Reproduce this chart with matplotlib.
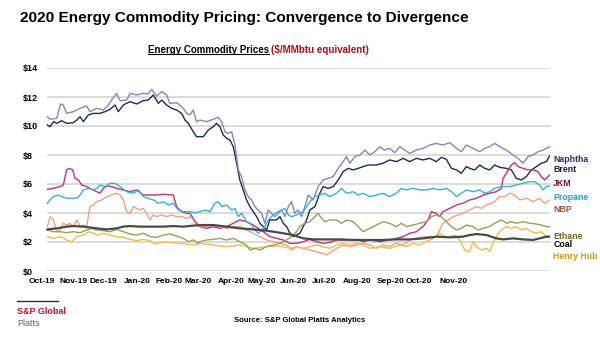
import matplotlib
matplotlib.use("Agg")
import matplotlib.pyplot as plt

# ---------------- data (x = trading-day index, y = $/MMBtu) ----------------
naphtha_x = [0.2, 1.8, 5.8, 8.1, 9.7, 11.7, 15.7, 19.7, 23.6, 25.6, 29.6, 33.6, 36.6, 38.5, 41.5, 43.5,
             47.5, 49.5, 53.5, 57.4, 60.4, 62.4, 65.4, 68.4, 71.3, 73.3, 77.3, 81.3, 83.3, 85.2, 87.2, 89.2,
             91.2, 95.2, 99.1, 102.1, 104.1, 106.1, 108.1, 110.1, 112.1, 114.1, 116.0, 118.0, 120.0, 122.0,
             124.0, 126.0, 128.0, 129.9, 131.9, 133.9, 135.9, 137.9, 139.9, 141.9, 143.9, 145.8, 147.8, 149.8,
             151.8, 153.8, 155.8, 158.8, 161.7, 164.7, 167.7, 170.7, 173.7, 176.6, 178.6, 180.6, 183.6, 186.6,
             189.6, 192.5, 195.5, 198.5, 201.4, 204.4, 207.4, 210.4, 213.4, 216.3, 220.3, 224.3, 228.3, 232.2,
             236.2, 240.2, 244.2, 247.1, 250.1, 254.1, 258.1, 261.1, 264.0, 267.0, 270.0, 274.0, 277.9, 280.9,
             283.9, 286.9, 289.9, 292.8, 295.8, 299.8]
naphtha_y = [10.64, 10.46, 10.53, 11.52, 11.45, 10.87, 10.99, 11.22, 11.38, 10.99, 11.22, 11.10, 11.45, 11.79,
             12.25, 11.75, 11.79, 12.25, 12.14, 12.25, 12.21, 12.53, 12.07, 12.37, 12.14, 11.56, 11.61, 11.22,
             10.87, 10.76, 11.10, 10.30,
             10.41, 10.30, 10.46, 10.60, 10.30, 9.61, 9.49, 9.61, 8.69, 6.97, 6.51, 5.59, 5.13, 4.90,
             4.44, 4.21, 3.98, 3.29, 4.21, 3.98, 3.75, 3.98, 4.21, 3.75, 4.44, 4.78, 3.98, 4.21,
             3.75, 4.44, 5.24, 4.90, 5.82, 6.28, 6.39, 6.51, 7.08, 7.54, 7.89, 7.43, 7.89, 8.00,
             8.34, 8.00, 8.23, 8.57, 8.34, 8.46, 8.16, 8.57, 8.34, 8.11, 8.34, 8.46, 8.69, 8.80,
             8.69, 8.85, 8.46, 8.23, 8.69, 8.46, 8.23, 8.46, 8.57, 8.80, 8.57, 8.34, 8.00, 7.77,
             7.43, 7.89, 8.00, 8.23, 8.34, 8.57]

brent_x = [0.2, 1.8, 3.8, 5.8, 8.7, 11.7, 15.7, 17.7, 19.7, 21.7, 24.6, 27.6, 31.6, 34.6, 37.6, 40.5, 42.5,
           45.5, 49.5, 53.5, 57.4, 60.4, 63.4, 66.4, 68.4, 71.3, 74.3, 77.3, 80.3, 82.3, 84.3, 87.2, 89.2,
           91.2, 93.2, 96.2, 99.1, 101.1, 103.1, 105.1, 107.1, 109.1, 111.1, 113.1, 115.0, 117.0, 119.0,
           121.0, 123.0, 125.0, 127.0, 129.0, 130.9, 132.9, 134.9, 136.9, 138.9, 140.9, 142.9, 144.9, 146.8,
           148.8, 150.8, 152.8, 154.8, 156.8, 159.8, 162.7, 164.7, 167.7, 170.7, 173.7, 176.6, 179.6, 182.6,
           185.6, 188.6, 191.5, 196.5, 200.4, 204.4, 208.4, 212.4, 216.3, 220.3, 224.3, 228.3, 232.2, 235.2,
           238.2, 241.2, 244.2, 247.1, 250.1, 252.1, 255.1, 258.1, 261.1, 264.0, 267.0, 270.0, 274.0, 277.0,
           279.9, 282.9, 285.9, 288.9, 291.9, 294.8, 297.8, 299.8]
brent_y = [10.07, 9.95, 10.30, 10.18, 10.37, 10.18, 10.23, 10.41, 10.64, 10.30, 10.76, 10.87, 10.87, 10.99,
           11.15, 11.45, 10.99, 11.45, 11.68, 11.52, 11.75, 11.79, 12.14, 11.56, 11.79, 11.45, 11.22, 11.10,
           10.87, 10.41, 10.18, 9.61, 9.26,
           9.26, 9.26, 9.72, 9.95, 10.18, 9.95, 9.38, 9.15, 9.03, 8.57, 7.43, 6.28, 5.59, 4.90,
           4.44, 4.09, 3.75, 3.29, 3.06, 2.83, 3.52, 3.52, 3.52, 3.75, 3.29, 3.06, 2.60, 2.37,
           2.48, 2.60, 3.06, 3.52, 4.21, 4.44, 5.36, 5.82, 5.70, 5.82, 6.28, 6.85, 7.08, 6.97,
           7.08, 7.20, 7.31, 7.31, 7.43, 7.66, 7.54, 7.77, 7.54, 7.77, 7.66, 7.77, 7.54, 7.84,
           7.70, 7.08, 6.97, 6.74, 7.20, 7.08, 6.97, 7.31, 7.08, 6.97, 7.31, 7.15, 7.08, 6.97,
           6.39, 6.28, 6.51, 6.97, 7.20, 7.43, 7.54, 7.93]

jkm_x = [0.2, 3.8, 7.8, 9.7, 11.7, 13.3, 15.3, 16.7, 18.7, 20.7, 23.6, 27.6, 31.6, 33.6, 35.6, 38.5, 41.5,
         45.5, 49.5, 53.5, 57.4, 61.4, 65.4, 69.4, 75.3, 77.3, 80.3, 83.3, 85.2, 87.2, 89.2,
         91.2, 95.2, 99.1, 103.1, 107.1, 111.1, 115.0, 119.0, 123.0, 126.0, 129.0, 132.9, 136.9, 140.9,
         144.9, 148.8, 152.8, 156.8, 160.7, 164.7, 168.7, 172.7, 176.6, 180.6, 184.6, 188.6, 192.5,
         198.5, 204.4, 208.4, 212.4, 216.3, 220.3, 224.3, 227.3, 229.3, 232.2, 234.2, 236.2, 240.2, 244.2,
         248.1, 252.1, 256.1, 260.1, 264.0, 268.0, 271.0, 272.0, 274.0, 276.9, 278.9, 280.9, 283.9, 286.9,
         289.9, 292.8, 294.8, 296.8, 299.8]
jkm_y = [5.63, 5.70, 5.82, 5.93, 6.97, 7.08, 6.97, 6.39, 6.28, 5.93, 5.82, 5.59, 5.36, 5.70, 5.86, 5.82, 5.70,
         5.59, 5.47, 5.59, 5.24, 5.24, 5.24, 5.29, 5.24, 4.44, 4.09, 3.98, 3.98, 3.63, 3.29,
         3.06, 2.94, 3.06, 2.94, 3.06, 3.29, 3.52, 3.40, 3.17, 2.94, 2.71, 2.37, 2.25, 2.14,
         1.91, 1.91, 2.02, 2.18, 2.02, 1.91, 1.98, 2.14, 2.14, 2.14, 2.18, 2.02, 2.14,
         2.02, 2.14, 2.25, 2.37, 2.60, 2.71, 3.06, 3.52, 4.09, 3.98, 3.75, 4.09, 4.32, 4.55,
         4.67, 4.90, 5.01, 5.24, 5.36, 5.47, 5.70, 6.39, 6.74, 7.31, 7.47, 7.20, 7.08, 6.97,
         6.97, 6.85, 6.51, 6.28, 6.62]

propane_x = [0.2, 1.8, 3.8, 6.8, 8.7, 11.7, 15.7, 18.7, 21.7, 24.6, 27.6, 29.6, 31.6, 34.6, 37.6, 40.5,
             43.5, 47.5, 51.5, 54.5, 57.4, 60.4, 63.4, 66.4, 69.4, 72.3, 75.3, 78.3, 81.3, 85.2, 88.2,
             91.2, 94.2, 97.2, 100.1, 102.1, 104.1, 107.1, 110.1, 112.1, 114.1, 116.0, 119.0, 122.0, 124.0,
             126.0, 128.0, 129.9, 131.9, 133.9, 135.9, 137.9, 139.9, 141.9, 143.9, 145.8, 148.8, 150.8, 152.8,
             154.8, 156.8, 159.8, 162.7, 165.7, 168.7, 172.7, 175.6, 178.6, 182.6, 185.6, 188.6, 192.5,
             196.5, 200.4, 204.4, 208.4, 211.4, 214.4, 218.3, 222.3, 226.3, 230.3, 234.2, 238.2, 241.2, 244.2,
             247.1, 250.1, 254.1, 258.1, 261.1, 264.0, 267.0, 271.0, 275.9, 279.9, 283.9, 287.9, 290.9, 293.8,
             295.8, 297.8, 299.8]
propane_y = [4.67, 4.90, 5.13, 5.24, 5.13, 5.01, 5.01, 5.08, 5.59, 5.70, 5.59, 5.70, 5.93, 5.82, 6.05, 6.05,
             5.82, 5.47, 5.36, 5.59, 5.13, 5.01, 4.90, 4.67, 4.78, 4.55, 4.67, 4.21, 4.09, 4.09, 4.02,
             4.09, 4.21, 4.09, 4.67, 4.78, 4.44, 4.55, 4.21, 4.32, 3.75, 3.98, 3.40, 3.17, 2.83,
             2.60, 2.83, 3.06, 3.52, 3.75, 3.98, 4.09, 4.21, 4.32, 3.86, 3.75, 3.86, 3.98, 4.09,
             4.44, 4.78, 5.13, 5.24, 5.36, 5.13, 5.36, 5.70, 5.36, 5.47, 5.24, 5.36, 5.13,
             5.24, 5.36, 5.13, 5.36, 5.70, 5.59, 5.70, 5.59, 5.59, 5.70, 5.59, 5.70, 5.47, 5.13,
             5.36, 5.59, 5.47, 5.59, 5.36, 5.47, 5.70, 5.82, 5.82, 5.93, 6.05, 6.16, 6.16, 5.93,
             5.59, 5.82, 5.86]

nbp_x = [0.2, 1.8, 3.8, 5.8, 7.8, 9.7, 11.7, 13.7, 15.7, 17.7, 19.7, 21.7, 23.6, 25.6, 27.6, 29.6, 32.6,
         35.6, 38.5, 41.5, 43.5, 45.5, 47.5, 49.5, 51.5, 53.5, 55.4, 57.4, 59.4, 61.4, 63.4, 65.4, 68.4,
         71.3, 74.3, 77.3, 80.3, 83.3, 85.2, 87.2, 89.2,
         91.2, 95.2, 99.1, 103.1, 107.1, 111.1, 115.0, 119.0, 123.0, 127.0, 130.9, 134.9, 138.9, 142.9,
         145.8, 148.8, 152.8, 156.8, 160.7, 164.7, 166.7, 169.7, 172.7, 176.6, 180.6, 184.6, 188.6, 192.5,
         196.5, 200.4, 204.4, 208.4, 212.4, 216.3, 220.3, 224.3, 228.3, 232.2, 236.2, 239.2, 242.2, 245.2,
         248.1, 252.1, 256.1, 259.1, 262.1, 267.0, 270.0, 273.0, 275.9, 278.9, 281.9, 285.9, 289.9, 293.8,
         296.8, 299.8]
nbp_y = [3.06, 3.75, 3.52, 2.71, 2.83, 3.29, 3.17, 3.29, 3.06, 3.52, 3.06, 3.17, 3.06, 4.44, 4.55, 4.78, 4.90,
         5.13, 5.24, 5.36, 5.24, 4.90, 4.09, 3.98, 4.44, 4.32, 4.21, 4.32, 3.98, 3.52, 3.86, 3.75, 3.86,
         3.75, 3.86, 3.75, 3.75, 3.63, 3.75, 3.52, 3.17,
         3.06, 3.06, 3.17, 3.06, 2.94, 3.06, 3.06, 2.83, 2.60, 2.37, 2.14, 2.02, 1.91, 1.79,
         1.45, 1.68, 1.56, 1.45, 1.33, 1.22, 1.10, 1.33, 1.56, 1.79, 1.68, 1.79, 1.91, 1.79,
         1.56, 1.79, 1.68, 1.91, 1.79, 2.14, 2.25, 2.37, 2.37, 2.37, 3.29, 3.52, 3.75, 3.86,
         3.98, 4.21, 4.44, 4.32, 4.55, 4.78, 5.13, 5.13, 5.36, 5.24, 4.90, 5.01, 4.78, 5.01,
         4.67, 4.90]

hh_x = [0.2, 3.8, 7.8, 11.7, 14.7, 17.7, 21.7, 24.6, 27.6, 30.6, 33.6, 37.6, 41.5, 45.5, 49.5, 53.5, 57.4,
        61.4, 64.4, 67.4, 71.3, 75.3, 79.3, 83.3, 87.2,
        91.2, 99.1, 107.1, 115.0, 123.0, 130.9, 138.9, 144.9, 148.8, 152.8, 156.8, 160.7, 164.7, 168.7,
        172.7, 176.6, 180.6, 184.6, 188.6,
        192.5, 198.5, 204.4, 210.4, 214.4, 218.3, 222.3, 226.3, 230.3, 232.2, 234.2, 237.2, 240.2, 243.2,
        246.1, 249.1, 252.1, 254.1, 256.1, 259.1, 262.1, 264.0, 266.0, 268.0, 271.0, 274.0, 276.9, 279.9,
        282.9, 285.9, 288.9, 291.9, 294.8, 297.8, 299.8]
hh_y = [2.37, 2.25, 2.37, 2.14, 2.02, 2.37, 2.48, 2.71, 2.60, 2.48, 2.60, 2.48, 2.37, 2.32, 2.18, 2.09, 2.18,
        2.09, 1.86, 1.95, 2.02, 1.95, 1.91, 1.86, 1.79,
        1.91, 1.79, 1.68, 1.79, 1.56, 1.68, 1.72, 1.56, 1.68, 1.56, 1.68, 1.79, 1.68, 1.56,
        1.79, 1.91, 1.79, 1.91, 1.79,
        1.56, 1.68, 1.56, 1.79, 1.68, 1.91, 1.79, 2.02, 2.25, 2.37, 2.60, 2.37, 2.37, 2.48,
        2.14, 1.45, 1.33, 2.02, 1.68, 1.45, 1.56, 1.33, 1.91, 2.37, 2.83, 3.06, 2.94, 3.06,
        2.83, 2.94, 2.71, 2.60, 2.71, 2.37, 2.25]

ethane_x = [0.2, 3.8, 7.8, 11.7, 15.7, 19.7, 23.6, 26.6, 29.6, 33.6, 37.6, 41.5, 45.5, 49.5, 53.5, 57.4,
            61.4, 65.4, 69.4, 73.3, 77.3, 81.3, 84.3, 87.2, 90.2,
            91.2, 95.2, 99.1, 103.1, 107.1, 111.1, 115.0, 119.0, 121.0, 124.0, 127.0, 130.9, 134.9, 138.9,
            142.9, 145.8, 148.8, 150.8, 153.8, 156.8, 159.8, 161.7, 163.7, 165.7, 168.7, 172.7, 175.6, 178.6,
            182.6, 185.6, 188.6, 192.5,
            196.5, 200.4, 204.4, 208.4, 211.4, 214.4, 218.3, 222.3, 226.3, 229.3, 232.2, 235.2, 238.2, 241.2,
            244.2, 247.1, 250.1, 254.1, 257.1, 260.1, 264.0, 267.0, 271.0, 274.0, 276.9, 279.9, 283.9, 287.9,
            291.9, 294.8, 297.8, 299.8]
ethane_y = [2.83, 2.71, 2.71, 2.64, 2.71, 2.64, 2.83, 2.94, 2.83, 2.78, 2.71, 2.87, 2.71, 2.55, 2.48, 2.60,
            2.37, 2.32, 2.48, 2.55, 2.41, 2.25, 2.02, 2.14, 1.91,
            2.02, 2.14, 2.18, 2.25, 2.14, 2.25, 2.02, 1.79, 1.45, 1.56, 1.45, 1.68, 1.79, 1.91,
            2.14, 2.37, 2.71, 3.06, 3.29, 3.40, 3.75, 3.98, 3.63, 3.40, 3.52, 3.52, 3.29, 3.52,
            3.40, 3.06, 2.71, 2.94,
            3.17, 3.40, 3.29, 3.06, 3.29, 3.06, 3.17, 3.29, 3.40, 3.75, 3.86, 3.75, 3.40, 3.06,
            2.83, 2.94, 3.17, 3.06, 2.83, 2.94, 3.06, 3.29, 3.52, 3.29, 3.40, 3.29, 3.40, 3.29,
            3.24, 3.17, 3.06, 3.06]

coal_x = [0.2, 5.8, 11.7, 15.7, 21.7, 29.6, 35.6, 41.5, 45.5, 49.5, 55.4, 61.4, 69.4, 75.3, 81.3, 87.2, 93.2,
          99.1, 107.1, 115.0, 123.0, 130.9, 138.9, 146.8, 152.8, 158.8, 166.7, 174.7, 182.6, 190.6,
          200.4, 208.4, 216.3, 224.3, 232.2, 240.2, 248.1, 252.1, 256.1, 262.1, 268.0, 272.0, 277.9, 283.9,
          289.9, 293.8, 297.8, 299.8]
coal_y = [2.87, 2.94, 3.06, 3.10, 3.06, 2.94, 2.87, 2.94, 3.06, 3.10, 3.06, 3.06, 3.06, 3.10, 3.06, 3.13, 3.17,
          3.17, 3.06, 2.94, 2.87, 2.78, 2.64, 2.48, 2.25, 2.18, 2.18, 2.18, 2.14, 2.14,
          2.14, 2.18, 2.18, 2.25, 2.37, 2.32, 2.37, 2.48, 2.55, 2.48, 2.25, 2.18, 2.25, 2.18,
          2.14, 2.25, 2.37, 2.37]

month_labels = ["Oct-19", "Nov-19", "Dec-19", "Jan-20", "Feb-20", "Mar-20", "Apr-20", "May-20",
                "Jun-20", "Jul-20", "Aug-20", "Sep-20", "Oct-20", "Nov-20"]
month_pos = [-3.0, 15.5, 33.4, 53.6, 72.7, 90.0, 109.7, 128.1, 147.2, 165.1, 184.8, 205.0, 221.7, 242.6]
y_ticks = [0, 2, 4, 6, 8, 10, 12, 14]
y_labels = ["$0", "$2", "$4", "$6", "$8", "$10", "$12", "$14"]

series_names = ["Naphtha", "Brent", "JKM", "Propane", "NBP", "Ethane", "Coal", "Henry Hub"]

# ---------------- styling ----------------
plt.rcParams["font.family"] = ["Liberation Sans", "DejaVu Sans"]

line_col = {
    "Naphtha": "#8986bf", "Brent": "#1f2d52", "JKM": "#c4317a", "Propane": "#35b3df",
    "NBP": "#f2a07e", "Ethane": "#99a05a", "Coal": "#4a4a4a", "Henry Hub": "#f3bd45",
}
label_col = {
    "Naphtha": "#2f2c6e", "Brent": "#101d45", "JKM": "#8a0b48", "Propane": "#1b9fd4",
    "NBP": "#9a5534", "Ethane": "#6a6a1c", "Coal": "#000000", "Henry Hub": "#d49a12",
}
label_val = {"Naphtha": 7.72, "Brent": 7.03, "JKM": 6.0, "Propane": 5.05, "NBP": 4.25,
             "Ethane": 2.4, "Coal": 1.85, "Henry Hub": 0.97}

fig = plt.figure(figsize=(6.0, 3.38), dpi=100)
ax = fig.add_axes([42 / 600, 1 - 271 / 338, 508 / 600, 203 / 338])
ax.set_xlim(-3, 300)
ax.set_ylim(0, 14)
for s in ax.spines.values():
    s.set_visible(False)

ax.hlines(y_ticks, 0, 300, colors="#d9d9d9", linewidth=1.3, zorder=0)

data = {
    "Brent": (brent_x, brent_y), "Naphtha": (naphtha_x, naphtha_y), "JKM": (jkm_x, jkm_y),
    "NBP": (nbp_x, nbp_y), "Henry Hub": (hh_x, hh_y), "Propane": (propane_x, propane_y),
    "Ethane": (ethane_x, ethane_y), "Coal": (coal_x, coal_y),
}
for name, (xs, ys) in data.items():
    ax.plot(xs, ys, color=line_col[name], linewidth=1.6 if name == "Coal" else 1.0,
            zorder=3 if name == "Coal" else 2, solid_joinstyle="round")

ax.set_yticks(y_ticks)
ax.set_yticklabels(y_labels, fontsize=6.5, fontweight="bold", ha="left")
ax.tick_params(axis="y", length=0, pad=14)
ax.set_xticks(month_pos)
ax.set_xticklabels(month_labels, fontsize=6, fontweight="bold")
ax.tick_params(axis="x", length=0, pad=5)

for name in series_names:
    ax.text(302, label_val[name], name, color=label_col[name], fontsize=6.3,
            fontweight="bold", va="center", ha="left", clip_on=False)

fig.text(20 / 600, 1 - 18 / 338, "2020 Energy Commodity Pricing: Convergence to Divergence",
         fontsize=11.1, fontweight="bold", va="center", ha="left")

t1 = fig.text(148 / 600, 1 - 50 / 338, "Energy Commodity Prices", fontsize=7, fontweight="bold",
              va="center", ha="left")
fig.canvas.draw()
bb = t1.get_window_extent()
fig.add_artist(plt.Line2D([bb.x0 / 600, bb.x1 / 600], [(bb.y0 + 1) / 338, (bb.y0 + 1) / 338],
                          color="black", linewidth=0.8))
fig.text(bb.x1 / 600 + 2 / 600, 1 - 50 / 338, "($/MMbtu equivalent)", fontsize=7, fontweight="bold",
         color="#b0101a", va="center", ha="left")

fig.text(300 / 600, 1 - 321 / 338, "Source: S&P Global Platts Analytics", fontsize=5.5,
         fontweight="bold", va="center", ha="center")

fig.add_artist(plt.Line2D([17 / 600, 58 / 600], [1 - 301 / 338, 1 - 301 / 338], color="#333333",
                          linewidth=1.0))
fig.text(17 / 600, 1 - 312 / 338, "S&P Global", fontsize=6.5, fontweight="bold", color="#c8102e",
         va="center", ha="left")
fig.text(17 / 600, 1 - 324 / 338, "Platts", fontsize=6.5, color="#666666",
         va="center", ha="left")

fig.savefig("out.png", dpi=100, facecolor="white")
